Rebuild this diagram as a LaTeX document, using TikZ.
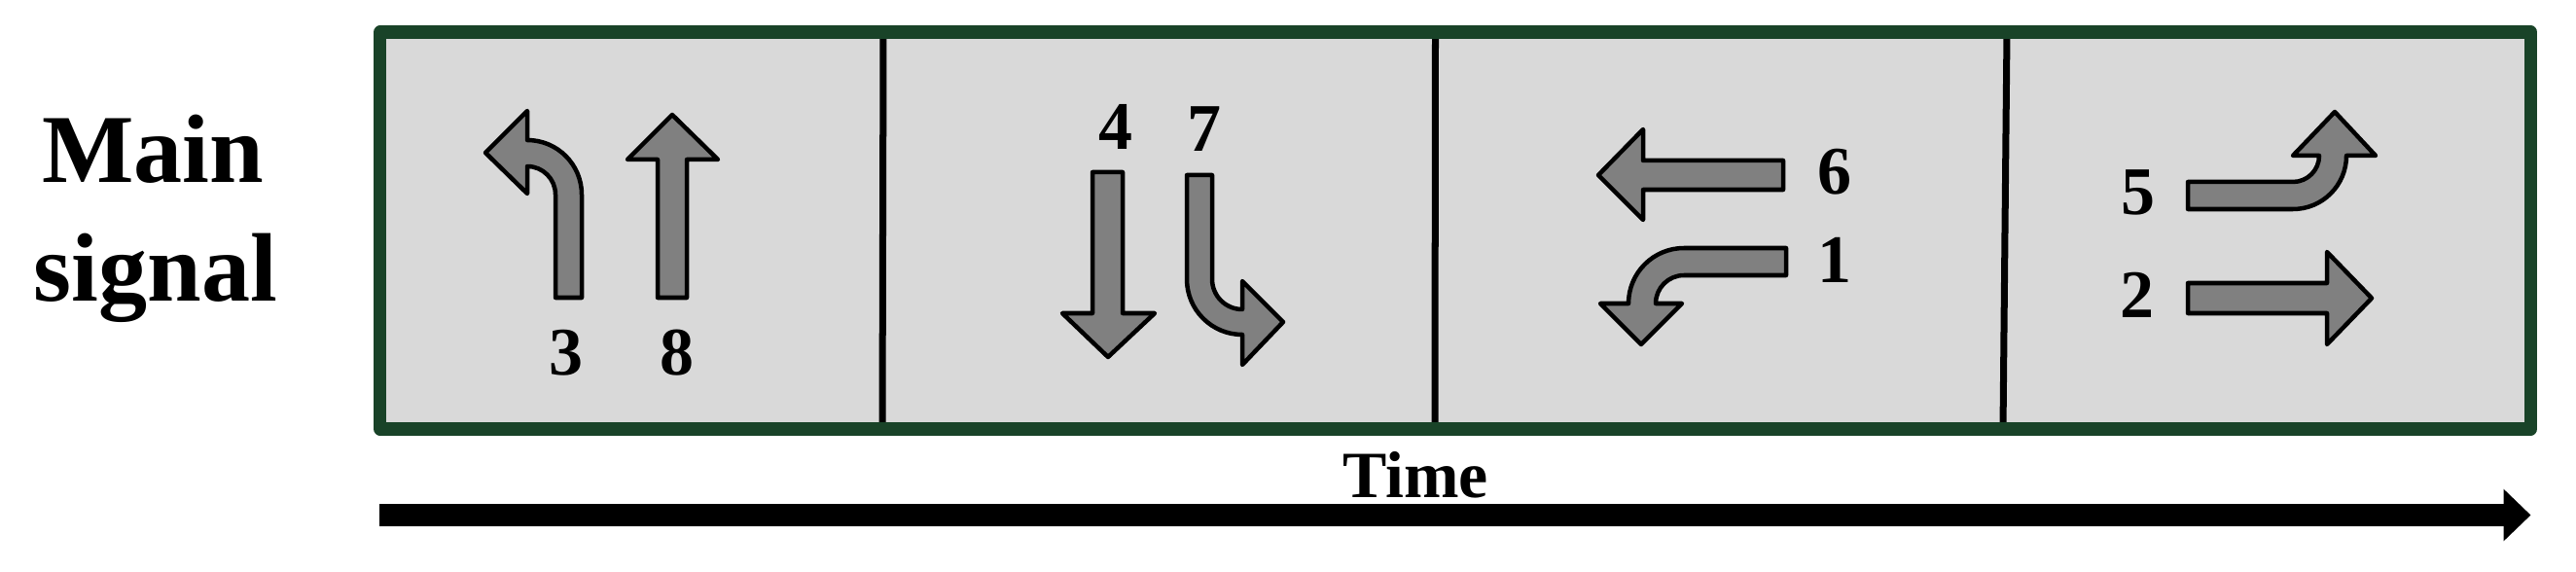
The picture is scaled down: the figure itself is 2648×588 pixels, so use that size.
\documentclass[tikz,border=0pt]{standalone}
\usepackage{fontspec}
\setmainfont{Liberation Serif}
\usetikzlibrary{arrows.meta}
\definecolor{framegreen}{RGB}{25,67,40}
\definecolor{panelgray}{HTML}{D9D9D9}
\definecolor{arrowgray}{HTML}{808080}
\tikzset{
  lanearrow/.style={draw=black, fill=arrowgray, line width=0.045cm, line join=round},
  numlabel/.style={font=\fontsize{19.9}{24}\selectfont\bfseries, anchor=base, inner sep=0pt},
  biglabel/.style={font=\fontsize{28.45}{34}\selectfont\bfseries, anchor=base, inner sep=0pt},
  divider/.style={draw=black, line width=0.07cm},
  panelframe/.style={draw=framegreen, line width=0.13cm, line join=round},
}
\begin{document}
\begin{tikzpicture}[x=0.01cm, y=-0.01cm]
\useasboundingbox (0,0) rectangle (2648,588);
% panel
\fill[panelgray] (390.7,33) rectangle (2601.5,441);
\draw[divider] (908,33) -- (907,441);
\draw[divider] (1475.5,33) -- (1475,441);
\draw[divider] (2063,33) -- (2059,441);
\draw[panelframe] (390.7,33) rectangle (2601.5,441);

% left label
\node[biglabel] (main) at (157,188) {Main};
\node[biglabel] (signal) at (160,309) {signal};

% phase 1: 3 (left turn up), 8 (straight up)
\draw[lanearrow] (571,306) -- (571,200) arc[start angle=0, end angle=-90, radius=29]
  -- (542,199) -- (499,157) -- (542,114) -- (542,144)
  arc[start angle=-90, end angle=0, radius=56] -- (598,306) -- cycle;
\draw[lanearrow] (676,306) -- (676,164) -- (645,164) -- (691,118) -- (738,164)
  -- (706,164) -- (706,306) -- cycle;
\node[numlabel] (n3) at (582,385) {3};
\node[numlabel] (n8) at (696,385) {8};

% phase 2: 4 (straight down), 7 (down then right)
\draw[lanearrow] (1123,177) -- (1154,177) -- (1154,322) -- (1187,322) -- (1139,367)
  -- (1092,322) -- (1123,322) -- cycle;
\draw[lanearrow] (1220,180) -- (1246,180) -- (1246,287)
  arc[start angle=180, end angle=90, radius=31]
  -- (1277,289) -- (1319,331) -- (1277,375) -- (1277,344)
  arc[start angle=90, end angle=180, radius=57] -- cycle;
\node[numlabel] (n4) at (1147,154) {4};
\node[numlabel] (n7) at (1238,156) {7};

% phase 3: 6 (straight left), 1 (left then down)
\draw[lanearrow] (1833,165) -- (1833,195) -- (1689,195) -- (1689,226) -- (1643,180)
  -- (1689,133) -- (1689,165) -- cycle;
\draw[lanearrow] (1836,255) -- (1836,283) -- (1731,283)
  arc[start angle=-90, end angle=-180, radius=29]
  -- (1729,312) -- (1687,354) -- (1645,312) -- (1674,312)
  arc[start angle=180, end angle=270, radius=57] -- cycle;
\node[numlabel] (n6) at (1886,200) {6};
\node[numlabel] (n1) at (1886,291) {1};

% phase 4: 5 (right then up), 2 (straight right)
\draw[lanearrow] (2249,187) -- (2357,187) arc[start angle=90, end angle=0, radius=27]
  -- (2357,160) -- (2400,115) -- (2442,160) -- (2412,160)
  arc[start angle=0, end angle=90, radius=55] -- (2249,215) -- cycle;
\draw[lanearrow] (2249,291) -- (2392,291) -- (2392,259) -- (2438,306.5) -- (2392,354)
  -- (2392,322) -- (2249,322) -- cycle;
\node[numlabel] (n5) at (2198,221) {5};
\node[numlabel] (n2) at (2197,327) {2};

% time axis
\coordinate (tstart) at (390,529.5);
\coordinate (tend) at (2601.5,529.5);
\draw[line width=0.23cm, -{Triangle[length=0.28cm 0, width=0.52cm 0]}] (tstart) -- (tend);
\node[font=\fontsize{19.3}{23}\selectfont\bfseries, anchor=base, inner sep=0pt] (time) at (1455,511) {Time};
\end{tikzpicture}
\end{document}
